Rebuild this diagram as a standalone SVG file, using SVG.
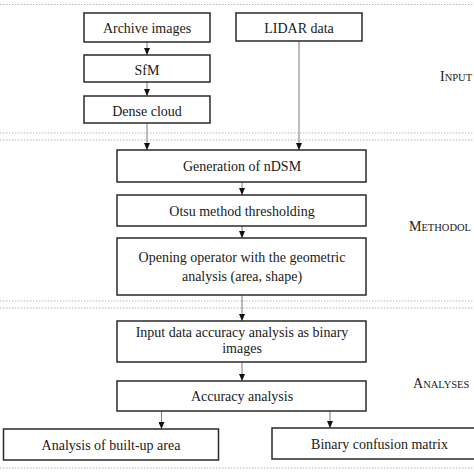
<svg xmlns="http://www.w3.org/2000/svg" width="474" height="474" viewBox="0 0 474 474">
<defs>
<style>
.box{fill:#fff;stroke:#2a2a2a;stroke-width:1.5}
.t{font-family:"Liberation Serif","Times New Roman",serif;font-size:14px;fill:#1a1a1a;text-anchor:middle}
.sc{font-family:"Liberation Serif","Times New Roman",serif;font-size:14px;fill:#1a1a1a}
.sm{font-size:10.5px}
.sep{stroke:#b8b8b8;stroke-width:1;stroke-dasharray:1.5 1.5;fill:none}
.c{stroke:#7a7a7a;stroke-width:1;fill:none;marker-end:url(#ah)}
</style>
<marker id="ah" viewBox="0 0 7 6" refX="7" refY="3" markerWidth="7" markerHeight="6" markerUnits="userSpaceOnUse" orient="auto">
<path d="M0,0 L7,3 L0,6 Z" fill="#111"/>
</marker>
</defs>
<rect width="474" height="474" fill="#fff"/>
<g id="separators">
<line class="sep" x1="0" y1="4.5" x2="474" y2="4.5"/>
<line class="sep" x1="0" y1="133" x2="474" y2="133"/>
<line class="sep" x1="0" y1="140" x2="474" y2="140"/>
<line class="sep" x1="0" y1="301" x2="474" y2="301"/>
<line class="sep" x1="0" y1="308" x2="474" y2="308"/>
<line class="sep" x1="0" y1="468" x2="474" y2="468"/>
</g>
<g id="section-labels">
<text class="sc" x="440" y="81">I<tspan class="sm">NPUT</tspan></text>
<text class="sc" x="409" y="231">M<tspan class="sm">ETHODOL</tspan></text>
<text class="sc" x="413" y="388">A<tspan class="sm">NALYSES</tspan></text>
</g>
<g id="connectors">
<path class="c" d="M147,42 V55"/>
<path class="c" d="M147,82 V96"/>
<path class="c" d="M147,123 V150"/>
<path class="c" d="M299,41 V150"/>
<path class="c" d="M242,182 V195"/>
<path class="c" d="M242,226 V238"/>
<path class="c" d="M242,295 V321"/>
<path class="c" d="M242,362 V381"/>
<path class="c" d="M161.5,411 V429"/>
<path class="c" d="M330,411 V428"/>
</g>
<g id="archive-images">
<rect class="box" x="84" y="13" width="126" height="29"/>
<text class="t" x="147" y="33">Archive images</text>
</g>
<g id="lidar-data">
<rect class="box" x="236" y="13" width="126" height="28"/>
<text class="t" x="299" y="33">LIDAR data</text>
</g>
<g id="sfm">
<rect class="box" x="84" y="55" width="126" height="27"/>
<text class="t" x="147" y="75">SfM</text>
</g>
<g id="dense-cloud">
<rect class="box" x="84" y="96" width="126" height="27"/>
<text class="t" x="147" y="116">Dense cloud</text>
</g>
<g id="generation-ndsm">
<rect class="box" x="117" y="150" width="249" height="32"/>
<text class="t" x="242" y="171">Generation of nDSM</text>
</g>
<g id="otsu">
<rect class="box" x="117" y="195" width="249" height="31"/>
<text class="t" x="242" y="216">Otsu method thresholding</text>
</g>
<g id="opening">
<rect class="box" x="117" y="238" width="249" height="57"/>
<text class="t" x="242" y="262">Opening operator with the geometric</text>
<text class="t" x="242" y="281">analysis (area, shape)</text>
</g>
<g id="input-accuracy">
<rect class="box" x="117" y="321" width="249" height="41"/>
<text class="t" x="242" y="337">Input data accuracy analysis as binary</text>
<text class="t" x="242" y="353">images</text>
</g>
<g id="accuracy-analysis">
<rect class="box" x="117" y="381" width="249" height="30"/>
<text class="t" x="242" y="401">Accuracy analysis</text>
</g>
<g id="built-up">
<rect class="box" x="3.5" y="429" width="215" height="31"/>
<text class="t" x="111" y="450">Analysis of built-up area</text>
</g>
<g id="confusion-matrix">
<rect class="box" x="272" y="428" width="210" height="31"/>
<text class="t" x="379.5" y="449">Binary confusion matrix</text>
</g>
</svg>
